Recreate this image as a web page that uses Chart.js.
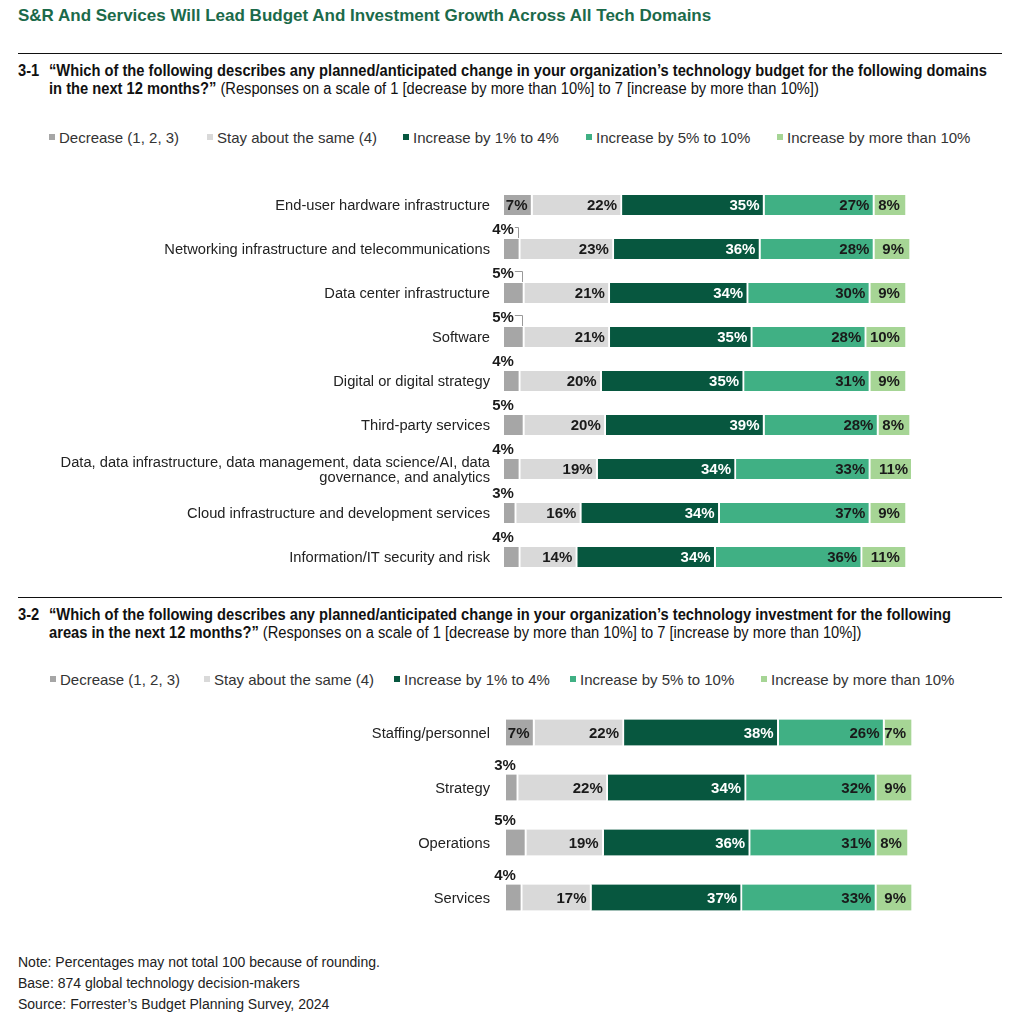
<!DOCTYPE html>
<html>
<head>
<meta charset="utf-8">
<script src="https://cdn.jsdelivr.net/npm/chart.js@4"></script>
<style>
  body { margin: 0; background: #fff; font-family: "Liberation Sans", Arial, sans-serif; color: #222; }
  #page { position: relative; width: 1014px; height: 1024px; overflow: hidden; }
  .abs { position: absolute; white-space: nowrap; }
  .title { left: 18px; top: 6px; font-size: 17px; font-weight: bold; color: #1b6a4a; }
  .rule { left: 18px; width: 984px; height: 0; border-top: 1.5px solid #111; }
  .q { font-size: 16px; color: #111; line-height: 18px; transform: scaleX(0.918); transform-origin: 0 0; }
  .legend { font-size: 15px; color: #333; }
  .sw { display: inline-block; width: 6px; height: 6px; margin-right: 4px; vertical-align: 3px; }
  .note { left: 18px; font-size: 14px; color: #222; }
  canvas { position: absolute; left: 0; }
</style>
</head>
<body>
<div id="page">
  <div class="abs title">S&amp;R And Services Will Lead Budget And Investment Growth Across All Tech Domains</div>
  <div class="abs rule" style="top:53px"></div>
  <div class="abs q" style="left:18px; top:62px"><b>3-1</b></div>
  <div class="abs q" style="left:49px; top:62px"><b>“Which of the following describes any planned/anticipated change in your organization’s technology budget for the following domains</b><br><b>in the next 12 months?”</b> (Responses on a scale of 1 [decrease by more than 10%] to 7 [increase by more than 10%])</div>
  <div id="legend1"></div>
  <canvas id="budgetChart" width="1014" height="396" style="top:183px"></canvas>

  <div class="abs rule" style="top:597px"></div>
  <div class="abs q" style="left:18px; top:606px"><b>3-2</b></div>
  <div class="abs q" style="left:49px; top:606px"><b>“Which of the following describes any planned/anticipated change in your organization’s technology investment for the following</b><br><b>areas in the next 12 months?”</b> (Responses on a scale of 1 [decrease by more than 10%] to 7 [increase by more than 10%])</div>
  <div id="legend2"></div>
  <canvas id="investChart" width="1014" height="220" style="top:705px"></canvas>

  <div class="abs note" style="top:954px">Note: Percentages may not total 100 because of rounding.</div>
  <div class="abs note" style="top:975px">Base: 874 global technology decision-makers</div>
  <div class="abs note" style="top:996px">Source: Forrester’s Budget Planning Survey, 2024</div>
</div>

<script>
const seriesNames = ['Decrease (1, 2, 3)', 'Stay about the same (4)', 'Increase by 1% to 4%', 'Increase by 5% to 10%', 'Increase by more than 10%'];
const seriesColors = ['#a6a6a6', '#d9d9d9', '#07573f', '#40b084', '#a6d595'];
const labelColors = ['#1a1a1a', '#1a1a1a', '#ffffff', '#1a1a1a', '#1a1a1a'];

const budgetDomains = [
    'End-user hardware infrastructure',
    'Networking infrastructure and telecommunications',
    'Data center infrastructure',
    'Software',
    'Digital or digital strategy',
    'Third-party services',
    ['Data, data infrastructure, data management, data science/AI, data', 'governance, and analytics'],
    'Cloud infrastructure and development services',
    'Information/IT security and risk'
];
const budgetDecrease = [7, 4, 5, 5, 4, 5, 4, 3, 4];
const budgetSame = [22, 23, 21, 21, 20, 20, 19, 16, 14];
const budgetUp1to4 = [35, 36, 34, 35, 35, 39, 34, 34, 34];
const budgetUp5to10 = [27, 28, 30, 28, 31, 28, 33, 37, 36];
const budgetUpOver10 = [8, 9, 9, 10, 9, 8, 11, 9, 11];
const budgetLeaders = [false, true, true, true, false, false, false, false, false];

const investAreas = ['Staffing/personnel', 'Strategy', 'Operations', 'Services'];
const investDecrease = [7, 3, 5, 4];
const investSame = [22, 22, 19, 17];
const investUp1to4 = [38, 34, 36, 37];
const investUp5to10 = [26, 32, 31, 33];
const investUpOver10 = [7, 9, 8, 9];
const investLeaders = [false, false, false, false];

function buildLegend(id, top, lefts) {
    const box = document.getElementById(id);
    seriesNames.forEach(function(name, i) {
        const item = document.createElement('div');
        item.className = 'abs legend';
        item.style.left = lefts[i] + 'px';
        item.style.top = top + 'px';
        item.innerHTML = '<span class="sw" style="background:' + seriesColors[i] + '"></span>' + name;
        box.appendChild(item);
    });
}
buildLegend('legend1', 129, [49, 207, 403, 586, 777]);
buildLegend('legend2', 671, [50, 204, 394, 570, 761]);

// value labels: inside the segment, right aligned; small ones sit above the bar
const valueLabels = {
    id: 'valueLabels',
    afterDatasetsDraw(chart, args, opts) {
        const ctx = chart.ctx;
        const last = chart.data.datasets.length - 1;
        ctx.save();
        ctx.font = 'bold 15px "Liberation Sans", Arial, sans-serif';
        ctx.textBaseline = 'middle';
        chart.data.datasets.forEach(function(ds, di) {
            chart.getDatasetMeta(di).data.forEach(function(bar, i) {
                const v = ds.data[i];
                const p = bar.getProps(['x', 'y', 'base', 'height'], true);
                if (v < 6) {
                    const ly = p.y - p.height / 2 - opts.above;
                    ctx.fillStyle = '#1a1a1a';
                    ctx.textAlign = 'center';
                    ctx.fillText(v + '%', p.base - 1, ly);
                    if (opts.leaders[i]) {
                        const tw = ctx.measureText(v + '%').width;
                        const lx = Math.round(p.x) - 1.5;
                        ctx.strokeStyle = '#999';
                        ctx.lineWidth = 1;
                        ctx.beginPath();
                        ctx.moveTo(p.base - 1 + tw / 2 + 1, ly - 2.5);
                        ctx.lineTo(lx, ly - 2.5);
                        ctx.lineTo(lx, p.y - p.height / 2 - 1);
                        ctx.stroke();
                    }
                } else {
                    ctx.fillStyle = labelColors[di];
                    ctx.textAlign = 'right';
                    ctx.fillText(v + '%', p.x - (di === last ? 7 : 5), p.y + 1);
                }
            });
        });
        ctx.restore();
    }
};

function makeChart(canvasId, labels, series, leaders, opt) {
    const datasets = series.map(function(values, i) {
        return {
            label: seriesNames[i],
            data: values,
            backgroundColor: seriesColors[i],
            borderColor: '#ffffff',
            borderWidth: { top: 0, bottom: 0, left: 0, right: 2 },
            borderSkipped: false,
            barThickness: opt.thickness
        };
    });
    return new Chart(document.getElementById(canvasId), {
        type: 'bar',
        data: { labels: labels, datasets: datasets },
        options: {
            indexAxis: 'y',
            responsive: false,
            animation: false,
            layout: { padding: { left: 0, right: 1014 - opt.left - opt.width, top: 0, bottom: 0 } },
            plugins: {
                legend: { display: false },
                tooltip: { enabled: false },
                valueLabels: { leaders: leaders, above: opt.above }
            },
            scales: {
                x: { stacked: true, min: 0, max: 100, display: false },
                y: {
                    stacked: true,
                    grid: { display: false, drawTicks: false },
                    border: { display: false },
                    afterFit: function(scale) {
                        scale.width = opt.left;
                        scale.paddingTop = 0;
                        scale.paddingBottom = 0;
                    },
                    ticks: {
                        padding: opt.left - 490,
                        labelOffset: 1,
                        color: '#222',
                        font: { family: '"Liberation Sans", Arial, sans-serif', size: 14.7, lineHeight: 1.02 }
                    }
                }
            }
        },
        plugins: [valueLabels]
    });
}

makeChart('budgetChart', budgetDomains,
    [budgetDecrease, budgetSame, budgetUp1to4, budgetUp5to10, budgetUpOver10],
    budgetLeaders, { left: 504, width: 407, thickness: 20, above: 9 });

makeChart('investChart', investAreas,
    [investDecrease, investSame, investUp1to4, investUp5to10, investUpOver10],
    investLeaders, { left: 506, width: 407, thickness: 26, above: 9 });
</script>
</body>
</html>
